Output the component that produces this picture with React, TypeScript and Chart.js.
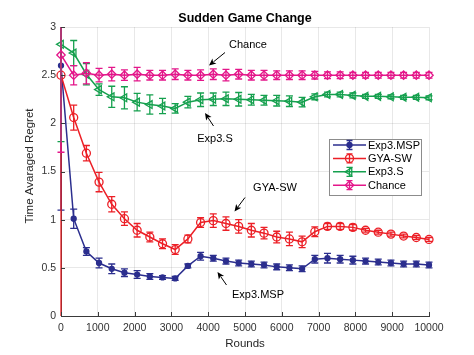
import React, { useEffect, useRef } from 'react';
import { Chart, registerables } from 'chart.js';

Chart.register(...registerables);

const rounds = [0, 345, 690, 1034, 1379, 1724, 2069, 2414, 2759, 3103, 3448, 3793, 4138, 4483, 4828, 5172, 5517, 5862, 6207, 6552, 6897, 7241, 7586, 7931, 8276, 8621, 8966, 9310, 9655, 10000];

const exp3msp = [2.60, 1.01, 0.67, 0.55, 0.49, 0.45, 0.43, 0.41, 0.40, 0.39, 0.52, 0.62, 0.60, 0.57, 0.55, 0.54, 0.53, 0.51, 0.50, 0.49, 0.59, 0.60, 0.59, 0.58, 0.57, 0.56, 0.55, 0.54, 0.54, 0.53];
const exp3mspErr = [1.50, 0.10, 0.04, 0.05, 0.05, 0.04, 0.04, 0.03, 0.02, 0.02, 0.02, 0.04, 0.03, 0.03, 0.03, 0.03, 0.03, 0.03, 0.03, 0.03, 0.04, 0.05, 0.04, 0.04, 0.03, 0.03, 0.03, 0.03, 0.03, 0.03];

const gyaSw = [2.50, 2.06, 1.69, 1.39, 1.16, 1.01, 0.89, 0.82, 0.75, 0.69, 0.80, 0.97, 0.99, 0.96, 0.93, 0.89, 0.86, 0.82, 0.80, 0.77, 0.875, 0.93, 0.93, 0.92, 0.89, 0.87, 0.85, 0.83, 0.815, 0.795];
const gyaSwErr = [2.60, 0.13, 0.08, 0.10, 0.08, 0.07, 0.07, 0.05, 0.05, 0.05, 0.04, 0.05, 0.07, 0.07, 0.07, 0.07, 0.06, 0.06, 0.07, 0.06, 0.05, 0.03, 0.03, 0.03, 0.02, 0.02, 0.02, 0.02, 0.02, 0.02];

const exp3s = [2.82, 2.73, 2.51, 2.35, 2.275, 2.265, 2.22, 2.195, 2.18, 2.155, 2.22, 2.245, 2.25, 2.255, 2.25, 2.245, 2.24, 2.235, 2.23, 2.22, 2.275, 2.30, 2.30, 2.29, 2.28, 2.28, 2.275, 2.27, 2.27, 2.265];
const exp3sErr = [1.01, 0.13, 0.11, 0.06, 0.11, 0.115, 0.09, 0.10, 0.08, 0.05, 0.06, 0.07, 0.065, 0.07, 0.07, 0.055, 0.05, 0.055, 0.055, 0.05, 0.03, 0.025, 0.025, 0.025, 0.02, 0.02, 0.02, 0.02, 0.02, 0.02];

const chance = [2.71, 2.50, 2.52, 2.50, 2.51, 2.50, 2.51, 2.50, 2.50, 2.51, 2.50, 2.50, 2.51, 2.50, 2.51, 2.50, 2.50, 2.50, 2.50, 2.50, 2.50, 2.50, 2.50, 2.50, 2.50, 2.50, 2.50, 2.50, 2.50, 2.50];
const chanceErr = [1.01, 0.10, 0.11, 0.07, 0.07, 0.055, 0.07, 0.05, 0.05, 0.055, 0.05, 0.055, 0.055, 0.06, 0.05, 0.05, 0.05, 0.045, 0.045, 0.045, 0.04, 0.035, 0.035, 0.03, 0.03, 0.03, 0.03, 0.03, 0.03, 0.03];

const seriesNames = ['Exp3.MSP', 'GYA-SW', 'Exp3.S', 'Chance'];
const titleText = 'Sudden Game Change';
const xTitle = 'Rounds';
const yTitle = 'Time Avaraged Regret';

const FONT = '"Liberation Sans", Arial, Helvetica, sans-serif';
const AXIS_COLOR = '#3a3a3a';

type MarkerCfg = { style: string; radius: number; fill: boolean; rotation: number };

function drawMarker(ctx: CanvasRenderingContext2D, m: MarkerCfg, x: number, y: number, color: string) {
  ctx.save();
  ctx.strokeStyle = color;
  ctx.fillStyle = color;
  ctx.lineWidth = 1.3;
  ctx.translate(x, y);
  ctx.rotate((m.rotation * Math.PI) / 180);
  const r = m.radius;
  ctx.beginPath();
  if (m.style === 'circle') {
    ctx.arc(0, 0, r, 0, Math.PI * 2);
  } else if (m.style === 'triangle') {
    ctx.moveTo(0, -r);
    ctx.lineTo(r * 0.866, r * 0.5);
    ctx.lineTo(-r * 0.866, r * 0.5);
    ctx.closePath();
  } else if (m.style === 'rectRot') {
    ctx.moveTo(0, -r);
    ctx.lineTo(r, 0);
    ctx.lineTo(0, r);
    ctx.lineTo(-r, 0);
    ctx.closePath();
  }
  if (m.fill) ctx.fill();
  ctx.stroke();
  ctx.restore();
}

function drawArrow(ctx: CanvasRenderingContext2D, x1: number, y1: number, x2: number, y2: number) {
  const ang = Math.atan2(y2 - y1, x2 - x1);
  const hl = 7;
  const hw = 3.2;
  ctx.save();
  ctx.strokeStyle = '#000';
  ctx.fillStyle = '#000';
  ctx.lineWidth = 1;
  ctx.beginPath();
  ctx.moveTo(x1, y1);
  ctx.lineTo(x2 - Math.cos(ang) * hl * 0.8, y2 - Math.sin(ang) * hl * 0.8);
  ctx.stroke();
  ctx.beginPath();
  ctx.moveTo(x2, y2);
  ctx.lineTo(x2 - Math.cos(ang) * hl + Math.sin(ang) * hw, y2 - Math.sin(ang) * hl - Math.cos(ang) * hw);
  ctx.lineTo(x2 - Math.cos(ang) * hl * 0.75, y2 - Math.sin(ang) * hl * 0.75);
  ctx.lineTo(x2 - Math.cos(ang) * hl - Math.sin(ang) * hw, y2 - Math.sin(ang) * hl + Math.cos(ang) * hw);
  ctx.closePath();
  ctx.fill();
  ctx.restore();
}

const errorBarPlugin = {
  id: 'errorBars',
  beforeDatasetDraw(chart: any, args: any) {
    const ds = chart.data.datasets[args.index];
    const errs: number[] = ds.errors;
    if (!errs) return;
    const { ctx, chartArea, scales } = chart;
    ctx.save();
    ctx.beginPath();
    ctx.rect(chartArea.left - 8, chartArea.top, chartArea.right - chartArea.left + 16, chartArea.bottom - chartArea.top);
    ctx.clip();
    ctx.strokeStyle = ds.borderColor;
    ctx.lineWidth = 1.3;
    ds.data.forEach((d: any, i: number) => {
      const e = errs[i];
      const x = scales.x.getPixelForValue(d.x);
      const yt = scales.y.getPixelForValue(d.y + e);
      const yb = scales.y.getPixelForValue(d.y - e);
      const cw = 3.5;
      ctx.beginPath();
      ctx.moveTo(x, yt);
      ctx.lineTo(x, yb);
      ctx.moveTo(x - cw, yt);
      ctx.lineTo(x + cw, yt);
      ctx.moveTo(x - cw, yb);
      ctx.lineTo(x + cw, yb);
      ctx.stroke();
    });
    ctx.restore();
  },
};

const decorPlugin = {
  id: 'decor',
  afterDraw(chart: any) {
    const { ctx, chartArea, scales } = chart;
    ctx.save();
    // inward tick marks
    ctx.strokeStyle = AXIS_COLOR;
    ctx.lineWidth = 1;
    scales.x.ticks.forEach((t: any) => {
      const x = Math.round(scales.x.getPixelForValue(t.value)) + 0.5;
      ctx.beginPath();
      ctx.moveTo(x, chartArea.bottom);
      ctx.lineTo(x, chartArea.bottom - 4);
      ctx.stroke();
    });
    scales.y.ticks.forEach((t: any) => {
      const y = Math.round(scales.y.getPixelForValue(t.value)) + 0.5;
      ctx.beginPath();
      ctx.moveTo(chartArea.left, y);
      ctx.lineTo(chartArea.left + 4, y);
      ctx.stroke();
    });

    // title
    ctx.fillStyle = '#000';
    ctx.textAlign = 'center';
    ctx.textBaseline = 'middle';
    ctx.font = `bold 12.5px ${FONT}`;
    ctx.fillText(titleText, (chartArea.left + chartArea.right) / 2, 19);

    // axis titles
    ctx.fillStyle = '#262626';
    ctx.font = `11.5px ${FONT}`;
    ctx.fillText(xTitle, (chartArea.left + chartArea.right) / 2, 344);
    ctx.save();
    ctx.translate(30, 166);
    ctx.rotate(-Math.PI / 2);
    ctx.fillText(yTitle, 0, 0);
    ctx.restore();

    // annotations
    ctx.fillStyle = '#000';
    ctx.font = `11px ${FONT}`;
    ctx.fillText('Chance', 248, 45);
    drawArrow(ctx, 225, 52.5, 209, 65.5);
    ctx.fillText('Exp3.S', 215, 138.5);
    drawArrow(ctx, 213.5, 126, 205, 113);
    ctx.fillText('GYA-SW', 275, 188);
    drawArrow(ctx, 245, 197.5, 234.5, 211.5);
    ctx.fillText('Exp3.MSP', 258, 295);
    drawArrow(ctx, 226.5, 285, 217.5, 272);

    // legend
    const lx = 329.5, ly = 139.5, lw = 92, lh = 56;
    ctx.fillStyle = '#fff';
    ctx.fillRect(lx, ly, lw, lh);
    ctx.strokeStyle = '#8c8c8c';
    ctx.lineWidth = 1;
    ctx.strokeRect(lx, ly, lw, lh);
    chart.data.datasets.forEach((ds: any, i: number) => {
      const y = 145 + i * 13.4;
      const color = ds.borderColor;
      ctx.strokeStyle = color;
      ctx.lineWidth = 1.5;
      ctx.beginPath();
      ctx.moveTo(333, y);
      ctx.lineTo(366, y);
      ctx.stroke();
      ctx.lineWidth = 1.3;
      ctx.beginPath();
      ctx.moveTo(349.5, y - 4.5);
      ctx.lineTo(349.5, y + 4.5);
      ctx.moveTo(346.5, y - 4.5);
      ctx.lineTo(352.5, y - 4.5);
      ctx.moveTo(346.5, y + 4.5);
      ctx.lineTo(352.5, y + 4.5);
      ctx.stroke();
      drawMarker(ctx, ds.marker, 349.5, y, color);
      ctx.fillStyle = '#000';
      ctx.textAlign = 'left';
      ctx.textBaseline = 'middle';
      ctx.font = `11px ${FONT}`;
      ctx.fillText(ds.label, 368, y + 0.5);
    });
    ctx.restore();
  },
};

const markers: MarkerCfg[] = [
  { style: 'circle', radius: 2.5, fill: true, rotation: 0 },
  { style: 'circle', radius: 4, fill: false, rotation: 0 },
  { style: 'triangle', radius: 4.5, fill: false, rotation: -90 },
  { style: 'rectRot', radius: 4.2, fill: false, rotation: 0 },
];

const colors = ['#2b2e8e', '#ec1f26', '#15a04e', '#e4168a'];
const values = [exp3msp, gyaSw, exp3s, chance];
const errors = [exp3mspErr, gyaSwErr, exp3sErr, chanceErr];

export default function App() {
  const ref = useRef<HTMLCanvasElement | null>(null);

  useEffect(() => {
    if (!ref.current) return;
    Chart.defaults.font.family = FONT;
    const datasets = values.map((vals, k) => ({
      label: seriesNames[k],
      data: rounds.map((x, i) => ({ x, y: vals[i] })),
      errors: errors[k],
      marker: markers[k],
      borderColor: colors[k],
      backgroundColor: markers[k].fill ? colors[k] : 'rgba(0,0,0,0)',
      borderWidth: 1.5,
      pointStyle: markers[k].style,
      pointRadius: markers[k].radius,
      pointRotation: markers[k].rotation,
      pointBorderWidth: 1.3,
      pointBorderColor: colors[k],
      pointBackgroundColor: markers[k].fill ? colors[k] : 'rgba(0,0,0,0)',
      tension: 0,
      fill: false,
      clip: false as any,
      order: 3 - k,
    }));

    const chart = new Chart(ref.current, {
      type: 'line',
      data: { datasets: datasets as any },
      options: {
        responsive: false,
        animation: false,
        events: [],
        layout: { padding: { left: 0, right: 45, top: 27, bottom: 0 } },
        plugins: {
          legend: { display: false },
          title: { display: false },
          tooltip: { enabled: false },
        },
        scales: {
          x: {
            type: 'linear',
            min: 0,
            max: 10000,
            afterFit: (s: any) => { s.height = 39; },
            ticks: {
              stepSize: 1000,
              color: '#333',
              font: { size: 10.5, family: FONT },
              padding: 6,
              maxRotation: 0,
              callback: (v: any) => String(v),
            },
            grid: { color: 'rgba(0,0,0,0.09)', drawTicks: false, lineWidth: 1 },
            border: { color: AXIS_COLOR, width: 1 },
          },
          y: {
            type: 'linear',
            min: 0,
            max: 3,
            afterFit: (s: any) => { s.width = 61; },
            ticks: {
              stepSize: 0.5,
              color: '#333',
              font: { size: 10.5, family: FONT },
              padding: 5,
              callback: (v: any) => String(v),
            },
            grid: { color: 'rgba(0,0,0,0.09)', drawTicks: false, lineWidth: 1 },
            border: { color: AXIS_COLOR, width: 1 },
          },
        },
      },
      plugins: [errorBarPlugin as any, decorPlugin as any],
    });
    return () => chart.destroy();
  }, []);

  return (
    <div style={{ position: 'fixed', left: 0, top: 0, width: 474, height: 355, background: '#fff' }}>
      <canvas ref={ref} width={474} height={355} style={{ display: 'block', width: 474, height: 355 }} />
    </div>
  );
}
